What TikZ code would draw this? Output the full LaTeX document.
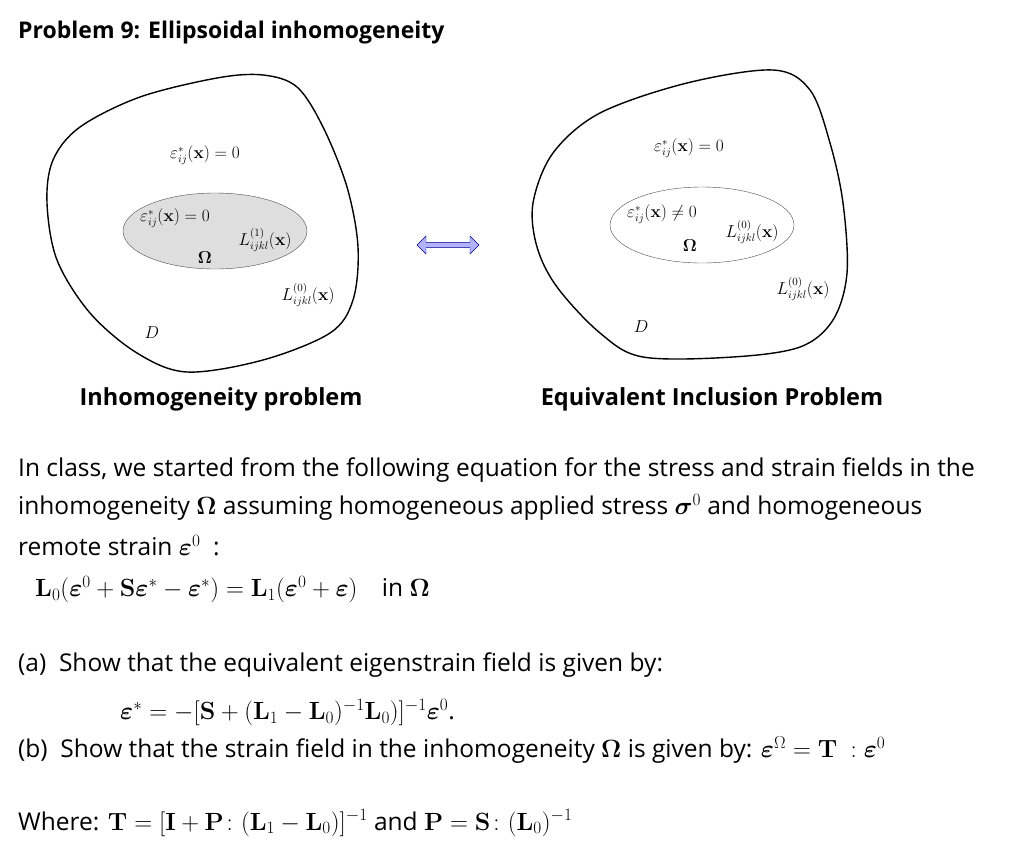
\documentclass[tikz,border=0pt]{standalone}
\usepackage{amsmath,bm}
\usepackage[no-math]{fontspec}
\setmainfont{Open Sans}
\usepackage{tikz}
\usetikzlibrary{shapes.arrows, shapes.geometric, positioning}

\newcommand{\bodyfont}{\fontsize{24.5}{28}\selectfont}
\newcommand{\figfont}{\fontsize{16}{18}\selectfont}
\newcommand{\beps}{\bm{\varepsilon}}

\begin{document}
\begin{tikzpicture}[x=1pt, y=-1pt]
    \tikzset{
        figlabel/.style={font=\figfont, inner sep=0pt},
        caption/.style={font=\fontsize{23.5}{26}\selectfont\bfseries, inner sep=0pt},
        bodyline/.style={font=\bodyfont, anchor=west, inner sep=0pt},
        blob/.style={draw, line width=1.4pt}
    }
    \useasboundingbox (0,0) rectangle (1024,860);

    % TITLE
    \node[anchor=west, font=\fontsize{23}{26}\selectfont\bfseries, inner sep=0pt] (title) at (18,33) {Problem 9: Ellipsoidal inhomogeneity};

    % LEFT FIGURE
    \draw[blob] plot[smooth cycle, tension=0.55] coordinates {(47,203) (53,160) (80,127) (140,97) (217,78) (263,75) (297,87) (323,127) (347,187) (358,247) (353,300) (330,333) (263,360) (187,372) (137,353) (90,313) (57,260)};
    \node[draw=black!70, fill=black!13, ellipse, minimum width=184, minimum height=76, inner sep=0pt] (omegaL) at (215,231) {};
    \node[figlabel] (epsL) at (205,155) {$\varepsilon^*_{ij}(\mathbf{x})=0$};
    \node[figlabel] (epsinL) at (175,218) {$\varepsilon^*_{ij}(\mathbf{x})=0$};
    \node[figlabel] (Lone) at (265,240) {$L^{(1)}_{ijkl}(\mathbf{x})$};
    \node[figlabel] (OmL) at (205,258) {$\boldsymbol{\Omega}$};
    \node[figlabel] (LzeroL) at (308,295) {$L^{(0)}_{ijkl}(\mathbf{x})$};
    \node[figlabel] (DL) at (152,333) {$D$};
    \node[caption] (capL) at (221,399) {Inhomogeneity problem};

    % ARROW
    \node[double arrow, draw=blue!55!black, fill=blue!30, minimum height=62, minimum width=18, double arrow head extend=3pt, inner sep=1pt] (equiv) at (448,245) {};

    % RIGHT FIGURE
    \draw[blob] plot[smooth cycle, tension=0.55] coordinates {(533,203) (553,153) (600,113) (687,83) (773,70) (810,90) (830,143) (843,203) (847,273) (833,320) (800,347) (733,357) (643,357) (600,333) (557,287) (537,247)};
    \node[draw=black!70, ellipse, minimum width=184, minimum height=76, inner sep=0pt] (omegaR) at (702,225) {};
    \node[figlabel] (epsR) at (689,148) {$\varepsilon^*_{ij}(\mathbf{x})=0$};
    \node[figlabel] (epsinR) at (662,214) {$\varepsilon^*_{ij}(\mathbf{x})\neq0$};
    \node[figlabel] (Lzeroin) at (752,232) {$L^{(0)}_{ijkl}(\mathbf{x})$};
    \node[figlabel] (OmR) at (690,246) {$\boldsymbol{\Omega}$};
    \node[figlabel] (LzeroR) at (803,289) {$L^{(0)}_{ijkl}(\mathbf{x})$};
    \node[figlabel] (DR) at (641,327) {$D$};
    \node[caption] (capR) at (712,399) {Equivalent Inclusion Problem};

    % TEXT
    \node[bodyline] (l1) at (18,470) {In class, we started from the following equation for the stress and strain fields in the};
    \node[bodyline] (l2) at (18,507) {inhomogeneity $\boldsymbol{\Omega}$ assuming homogeneous applied stress $\bm{\sigma}^0$ and homogeneous};
    \node[bodyline] (l3) at (18,546) {remote strain $\beps^0$\ \ :};
    \node[bodyline] (eq1) at (35,590) {$\mathbf{L}_0(\beps^0+\mathbf{S}\beps^*-\beps^*)=\mathbf{L}_1(\beps^0+\beps)\quad\text{in }\boldsymbol{\Omega}$};
    \node[bodyline] (pa) at (18,665) {(a)\ \ Show that the equivalent eigenstrain field is given by:};
    \node[bodyline] (eq2) at (120,713) {$\beps^*=-[\mathbf{S}+(\mathbf{L}_1-\mathbf{L}_0)^{-1}\mathbf{L}_0)]^{-1}\beps^0$.};
    \node[bodyline] (pb) at (18,750) {(b)\ \ Show that the strain field in the inhomogeneity $\boldsymbol{\Omega}$ is given by: $\beps^{\Omega}=\mathbf{T}\ :\beps^0$};
    \node[bodyline] (where) at (18,823) {Where: $\mathbf{T}=[\mathbf{I}+\mathbf{P}\colon(\mathbf{L}_1-\mathbf{L}_0)]^{-1}$ and $\mathbf{P}=\mathbf{S}\colon(\mathbf{L}_0)^{-1}$};
\end{tikzpicture}
\end{document}
